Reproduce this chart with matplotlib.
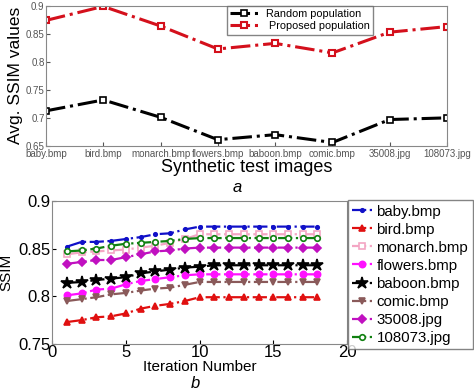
import matplotlib
matplotlib.use('Agg')
import matplotlib.pyplot as plt

plt.rcParams['font.family'] = ['Liberation Sans', 'DejaVu Sans']

# (a) average SSIM per test image
images = ['baby.bmp', 'bird.bmp', 'monarch.bmp', 'flowers.bmp',
          'baboon.bmp', 'comic.bmp', '35008.jpg', '108073.jpg']
random_pop = [0.7125, 0.732, 0.701, 0.661, 0.670, 0.656, 0.697, 0.700]
proposed_pop = [0.874, 0.899, 0.864, 0.823, 0.833, 0.816, 0.853, 0.863]

# (b) SSIM vs iteration
iters = list(range(1, 19))
baby = [0.852, 0.857, 0.857, 0.858, 0.860, 0.862, 0.865, 0.866, 0.870] + [0.873] * 9
bird = [0.773, 0.775, 0.778, 0.779, 0.782, 0.787, 0.790, 0.792, 0.795] + [0.799] * 9
monarch = [0.844, 0.846, 0.847, 0.848, 0.849, 0.851, 0.853, 0.856, 0.860] + [0.865] * 9
flowers = [0.801, 0.803, 0.807, 0.808, 0.8125, 0.816, 0.818, 0.820, 0.822] + [0.823] * 9
baboon = [0.814, 0.815, 0.817, 0.8185, 0.820, 0.824, 0.826, 0.828, 0.830, 0.831] + [0.8325] * 8
comic = [0.795, 0.797, 0.799, 0.802, 0.8035, 0.806, 0.808, 0.809, 0.812] + [0.815] * 9
img35008 = [0.834, 0.836, 0.838, 0.838, 0.841, 0.844, 0.847, 0.848, 0.850] + [0.851] * 9
img108073 = [0.847, 0.848, 0.850, 0.853, 0.855, 0.856, 0.857, 0.858, 0.860] + [0.861] * 9

fig = plt.figure(figsize=(4.74, 3.9), dpi=100)
spine_col = '#888888'

# ---- top panel
ax1 = fig.add_axes([0.097, 0.626, 0.846, 0.359])
xs = list(range(1, len(images) + 1))
ax1.plot(xs, random_pop, '-.', color='black', lw=2.2, marker='s', ms=5,
         mfc='white', mec='black', mew=1.2, label='Random population')
ax1.plot(xs, proposed_pop, '-.', color='#d4101c', lw=2.2, marker='s', ms=5,
         mfc='white', mec='#d4101c', mew=1.5, label=' Proposed population')
ax1.set_xlim(1, 8)
ax1.set_ylim(0.65, 0.9)
ax1.set_xticks(xs)
ax1.set_xticklabels(images)
ax1.set_yticks([0.65, 0.7, 0.75, 0.8, 0.85, 0.9])
ax1.set_yticklabels(['0.65', '0.7', '0.75', '0.8', '0.85', '0.9'])
ax1.tick_params(labelsize=7, colors='#555555', direction='in', length=3, pad=1)
ax1.tick_params(axis='x', pad=2)
ax1.set_xlabel('Synthetic test images', fontsize=13, labelpad=0)
ax1.set_ylabel('Avg. SSIM values', fontsize=12.5, labelpad=2)
for s in ax1.spines.values():
    s.set_color(spine_col)
ax1.legend(loc='upper left', bbox_to_anchor=(0.452, 1.0), fontsize=7.8,
           frameon=True, fancybox=False, edgecolor='#666666', borderpad=0.3,
           labelspacing=0.2, handlelength=2.5, borderaxespad=0)
fig.text(0.5, 0.52, 'a', fontsize=12, style='italic', ha='center', va='center')

# ---- bottom panel
ax2 = fig.add_axes([0.110, 0.118, 0.622, 0.367])
series = [
    (baby, 'baby.bmp', '#1010c8', '.', 5, '#1010c8'),
    (bird, 'bird.bmp', '#e01010', '^', 5, '#e01010'),
    (monarch, 'monarch.bmp', '#f4a6c4', 's', 4, 'white'),
    (flowers, 'flowers.bmp', '#ff10ff', 'o', 4.5, '#ff10ff'),
    (baboon, 'baboon.bmp', 'black', '*', 9, 'black'),
    (comic, 'comic.bmp', '#8a5a5a', 'v', 5, '#8a5a5a'),
    (img35008, '35008.jpg', '#c010c0', 'D', 4, '#c010c0'),
    (img108073, '108073.jpg', '#108010', 'o', 4, 'white'),
]
for vals, name, col, mk, ms, fc in series:
    ax2.plot(iters, vals, '-.', color=col, lw=1.6, marker=mk, ms=ms,
             mfc=fc, mec=col, mew=1.2, label=name)
ax2.set_xlim(0, 20)
ax2.set_ylim(0.75, 0.9)
ax2.set_xticks([0, 5, 10, 15, 20])
ax2.set_yticks([0.75, 0.8, 0.85, 0.9])
ax2.set_yticklabels(['0.75', '0.8', '0.85', '0.9'])
ax2.tick_params(labelsize=12, direction='in', length=3, pad=1)
ax2.set_xlabel('Iteration Number', fontsize=11, labelpad=0)
ax2.set_ylabel('SSIM', fontsize=11, labelpad=4)
for s in ax2.spines.values():
    s.set_color(spine_col)
ax2.legend(loc='upper left', bbox_to_anchor=(0.734, 0.487),
           bbox_transform=fig.transFigure, fontsize=10.8, frameon=True,
           fancybox=False, edgecolor='#666666', borderpad=0.3,
           labelspacing=0.27, handlelength=1.3, handletextpad=0.3,
           borderaxespad=0)
fig.text(0.412, 0.016, 'b', fontsize=12, style='italic', ha='center', va='center')

fig.savefig('out.png', dpi=100)
